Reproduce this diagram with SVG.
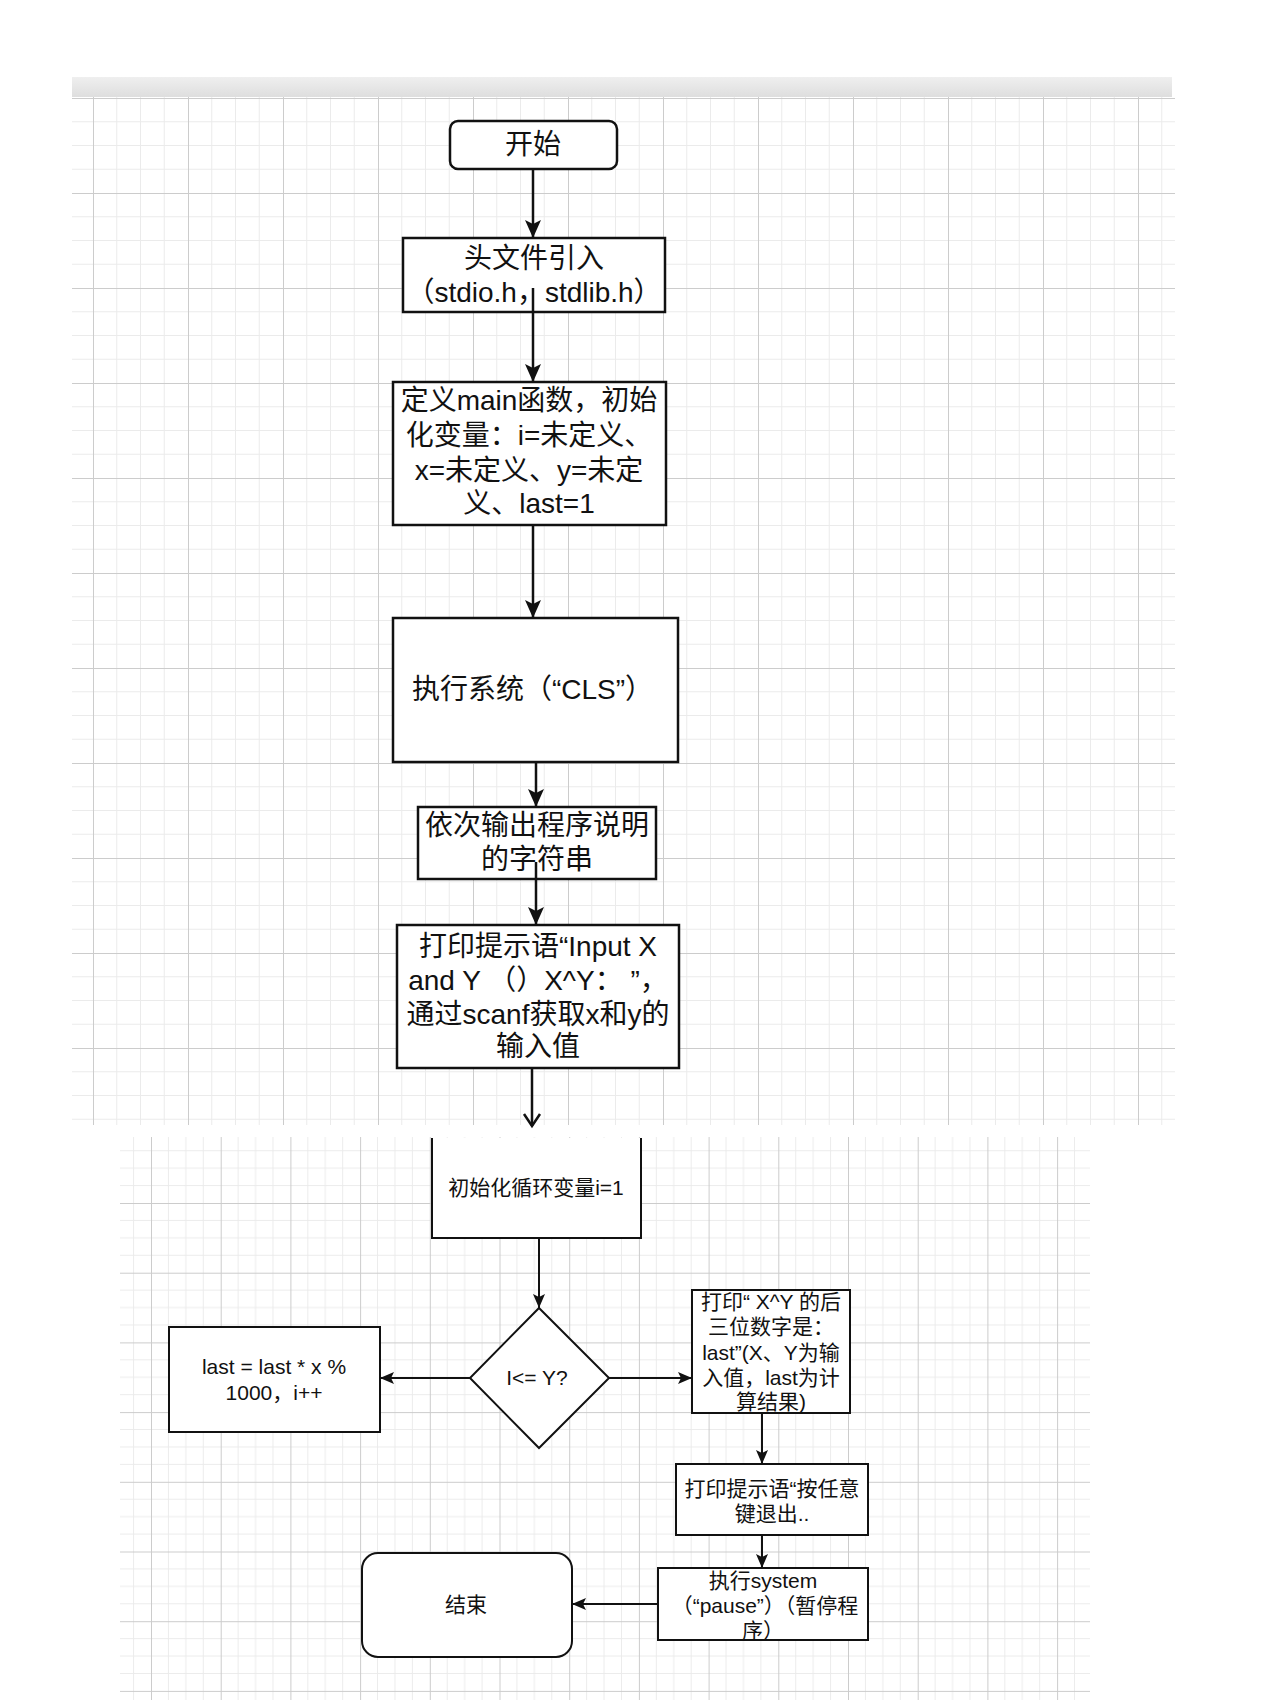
<svg xmlns="http://www.w3.org/2000/svg" width="1279" height="1706" viewBox="0 0 1279 1706">
<defs>
<style>
.box{fill:#fff;stroke:#111;stroke-width:2.5}
.boxb{fill:#fff;stroke:#111;stroke-width:2}
.t{font-family:"Liberation Sans","Noto Sans CJK SC",sans-serif;font-size:28px;fill:#111;text-anchor:middle}
.tb{font-family:"Liberation Sans","Noto Sans CJK SC",sans-serif;font-size:21px;fill:#111;text-anchor:middle}
.c{fill:none;stroke:#111;stroke-width:2.5}
.cb{fill:none;stroke:#111;stroke-width:2}
.mn{stroke:#ebebeb;stroke-width:1;fill:none}
.mj{stroke:#cccccc;stroke-width:1;fill:none}
</style>
<linearGradient id="band" x1="0" y1="0" x2="0" y2="1">
<stop offset="0" stop-color="#efefef"/>
<stop offset="1" stop-color="#dedede"/>
</linearGradient>
<pattern id="g1" x="93" y="98" width="95" height="95" patternUnits="userSpaceOnUse">
<path class="mn" d="M23.75,0V95M47.5,0V95M71.25,0V95M0,23.75H95M0,47.5H95M0,71.25H95"/>
<path class="mj" d="M0.5,0V95M0,0.5H95"/>
</pattern>
<pattern id="g2" x="151" y="1133.3" width="69.7" height="69.7" patternUnits="userSpaceOnUse">
<path class="mn" d="M17.4,0V69.7M34.85,0V69.7M52.3,0V69.7M0,17.4H69.7M0,34.85H69.7M0,52.3H69.7"/>
<path class="mj" d="M0.5,0V69.7M0,0.5H69.7"/>
</pattern>
<marker id="a1" markerUnits="userSpaceOnUse" viewBox="0 0 18 16" markerWidth="18" markerHeight="16" refX="18" refY="8" orient="auto">
<path d="M0,0L18,8L0,16L4,8Z" fill="#111"/>
</marker>
<marker id="a2" markerUnits="userSpaceOnUse" viewBox="0 0 14 12" markerWidth="14" markerHeight="12" refX="14" refY="6" orient="auto">
<path d="M0,0L14,6L0,12L3,6Z" fill="#111"/>
</marker>
</defs>

<g id="background">
<rect x="0" y="0" width="1279" height="1706" fill="#fff"/>
<rect x="72" y="77" width="1100" height="20" fill="url(#band)"/>
<rect x="72" y="97" width="1103" height="1028" fill="url(#g1)"/>
<rect x="120" y="1137" width="970" height="563" fill="url(#g2)"/>
</g>

<g id="start">
<rect class="box" x="450" y="121" width="167" height="48" rx="8"/>
<text class="t" x="533" y="154">开始</text>
</g>

<g id="include">
<rect class="box" x="403" y="238" width="262" height="74"/>
<text class="t" x="534" y="268">头文件引入</text>
<text class="t" x="534" y="302">（stdio.h，stdlib.h）</text>
</g>

<g id="main">
<rect class="box" x="393" y="382" width="273" height="143"/>
<text class="t" x="529" y="410">定义main函数，初始</text>
<text class="t" x="529" y="445">化变量：i=未定义、</text>
<text class="t" x="529" y="480">x=未定义、y=未定</text>
<text class="t" x="529" y="513">义、last=1</text>
</g>

<g id="cls">
<rect class="box" x="393" y="618" width="285" height="144"/>
<text class="t" x="412" y="699" style="text-anchor:start">执行系统（“CLS”）</text>
</g>

<g id="intro">
<rect class="box" x="418" y="807" width="238" height="72"/>
<text class="t" x="537" y="835">依次输出程序说明</text>
<text class="t" x="537" y="869">的字符串</text>
</g>

<g id="input">
<rect class="box" x="397" y="925" width="282" height="143"/>
<text class="t" x="538" y="956">打印提示语“Input X</text>
<text class="t" x="538" y="990">and Y （）X^Y： ”，</text>
<text class="t" x="538" y="1024">通过scanf获取x和y的</text>
<text class="t" x="538" y="1056">输入值</text>
</g>

<g id="initloop">
<rect x="432" y="1138" width="209" height="100" fill="#fff"/>
<path class="cb" d="M432,1138V1238H641V1138"/>
<text class="tb" x="536" y="1195">初始化循环变量i=1</text>
</g>

<g id="cond">
<polygon class="boxb" points="539,1308 609,1378 539,1448 470,1378"/>
<text class="tb" x="537" y="1385">I&lt;= Y?</text>
</g>

<g id="calc">
<rect class="boxb" x="169" y="1327" width="211" height="105"/>
<text class="tb" x="274" y="1374">last = last * x %</text>
<text class="tb" x="274" y="1400">1000，i++</text>
</g>

<g id="result">
<rect class="boxb" x="692" y="1290" width="158" height="123"/>
<text class="tb" x="771" y="1309">打印“ X^Y 的后</text>
<text class="tb" x="771" y="1334">三位数字是：</text>
<text class="tb" x="771" y="1360">last”(X、Y为输</text>
<text class="tb" x="771" y="1385">入值，last为计</text>
<text class="tb" x="771" y="1409">算结果)</text>
</g>

<g id="prompt">
<rect class="boxb" x="676" y="1464" width="192" height="71"/>
<text class="tb" x="772" y="1496">打印提示语“按任意</text>
<text class="tb" x="772" y="1521">键退出..</text>
</g>

<g id="pause">
<rect class="boxb" x="658" y="1568" width="210" height="72"/>
<text class="tb" x="763" y="1588">执行system</text>
<text class="tb" x="765" y="1613">（“pause”）（暂停程</text>
<text class="tb" x="763" y="1638">序）</text>
</g>

<g id="end">
<rect class="boxb" x="362" y="1553" width="210" height="104" rx="16"/>
<text class="tb" x="466" y="1612">结束</text>
</g>

<g id="connectors">
<path class="c" d="M533,169V238" marker-end="url(#a1)"/>
<path class="c" d="M533,288V382" marker-end="url(#a1)"/>
<path class="c" d="M533,525V618" marker-end="url(#a1)"/>
<path class="c" d="M536,762V807" marker-end="url(#a1)"/>
<path class="c" d="M536,862V925" marker-end="url(#a1)"/>
<path class="c" d="M532,1068V1126"/>
<path class="c" d="M524,1114L532,1126L540,1114"/>
<path class="cb" d="M539,1238V1308" marker-end="url(#a2)"/>
<path class="cb" d="M470,1378H380" marker-end="url(#a2)"/>
<path class="cb" d="M609,1378H692" marker-end="url(#a2)"/>
<path class="cb" d="M762,1413V1464" marker-end="url(#a2)"/>
<path class="cb" d="M762,1535V1568" marker-end="url(#a2)"/>
<path class="cb" d="M658,1604H572" marker-end="url(#a2)"/>
</g>
</svg>
